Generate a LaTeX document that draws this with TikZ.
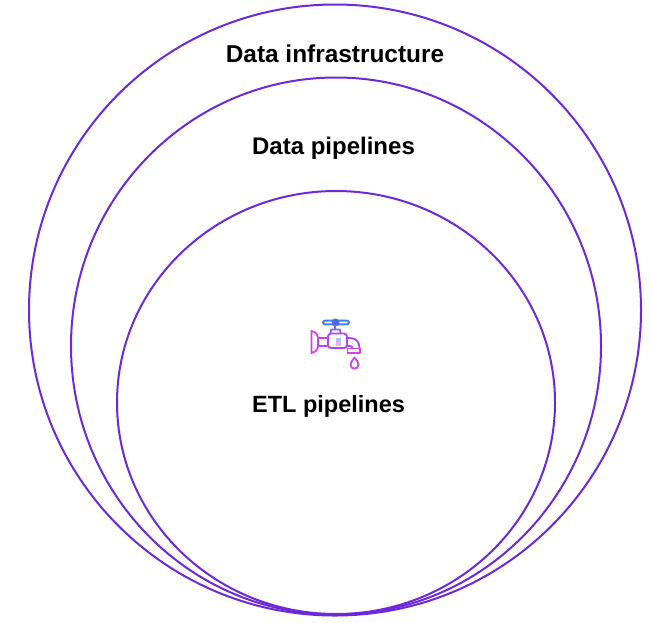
\documentclass[tikz,border=0pt]{standalone}
\usepackage{fontspec}
\setmainfont{Liberation Sans}
\usetikzlibrary{shapes.geometric}
\definecolor{ringc}{HTML}{6D28D9}
\definecolor{tapa}{HTML}{3F80F2}
\definecolor{tapb}{HTML}{8A5CF5}
\definecolor{tapc}{HTML}{B044F2}
\definecolor{tapd}{HTML}{D23FEF}
\tikzset{
    %Define style for rings
    ring/.style={
           ellipse,
           draw = ringc, line width = 2pt,
           inner sep = 0pt},
    %Define style for labels
    lbl/.style={
           font = \fontsize{#1}{26}\selectfont\bfseries,
           text = black, anchor = base,
           inner sep = 0pt},
    tap/.style={
           line width = 1.8pt,
           line join = round,
           line cap = round}
}
\begin{document}
\begin{tikzpicture}[x=1pt, y=-1pt]
\useasboundingbox (0,0) rectangle (652,622);
 %rings
\node[ring, minimum width = 612pt, minimum height = 611pt] (outer) at (335,310) {};
\node[ring, minimum width = 530pt, minimum height = 537pt] (middle) at (336,346) {};
\node[ring, minimum width = 438pt, minimum height = 423pt] (inner) at (336,402.5) {};
 %labels
\node[lbl=24.4] (infra) at (335,62.5) {Data infrastructure};
\node[lbl=24] (pipes) at (333.5,154) {Data pipelines};
\node[lbl=23.5] (etl) at (328.5,412) {ETL pipelines};
 %tap
\draw[tap, tapa, line width = 2pt, rounded corners=2pt] (323,320.7) rectangle (349,324.3);
\fill[tapa!80!ringc] (335.5,322.5) circle (4pt);
\draw[tap, tapb] (335,326) -- (335,329) (330.5,333) -- (331,329.5) -- (340,329.5) -- (340.5,333);
\draw[tap, tapc, rounded corners=3pt] (328,333.5) rectangle (347,348);
\fill[tapa!45!white] (336,338) rectangle (341,342);
\fill[tapd!40!white] (336,342) rectangle (341,346);
\draw[tap, tapd] (318,338) -- (328,338) (318,346) -- (328,346);
\draw[tap, tapd] (311.5,331) .. controls (315,332) and (318,334) .. (318,338)
	-- (318,346) .. controls (318,350) and (315,352) .. (311.5,353) -- cycle;
\draw[tap, tapc] (347,338) -- (350,338) .. controls (356,338) and (359.5,342) .. (359.5,348);
\draw[tap, tapc] (347,346) -- (350,346) .. controls (351.5,346) and (352.5,347) .. (352.5,348);
\draw[tap, tapd] (347.5,348.5) -- (360,348.5) -- (360,353) -- (347.5,353) -- cycle;
\draw[tap, tapd] (354.5,357.5) .. controls (352,361) and (350.5,362.5) .. (350.5,364.5)
	.. controls (350.5,370) and (358.5,370) .. (358.5,364.5)
	.. controls (358.5,362.5) and (357,361) .. (354.5,357.5) -- cycle;
\end{tikzpicture}
\end{document}
